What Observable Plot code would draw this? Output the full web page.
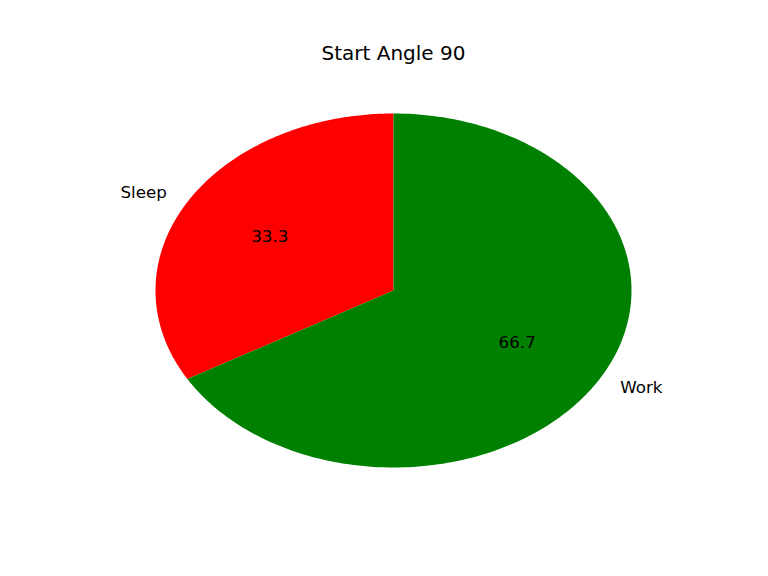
<!DOCTYPE html>
<html>
<head>
<meta charset="utf-8">
<script src="https://cdn.jsdelivr.net/npm/d3@7"></script>
<script src="https://cdn.jsdelivr.net/npm/@observablehq/plot@0.6"></script>
<style>
  body { margin: 0; background: #fff; }
  svg { display: block; }
</style>
</head>
<body>
<div id="chart"></div>
<script>
const labels = ["Sleep", "Work"];
const values = [8, 16];
const colors = ["red", "green"];
const title = "Start Angle 90";

const total = d3.sum(values);
const startDeg = 90;
const wedges = [];
const labelPts = [];
let acc = 0;
labels.forEach((name, i) => {
  const a0 = (startDeg + 360 * acc / total) * Math.PI / 180;
  acc += values[i];
  const a1 = (startDeg + 360 * acc / total) * Math.PI / 180;
  const n = 200;
  wedges.push({name, x: 0, y: 0});
  for (let k = 0; k <= n; k++) {
    const a = a0 + (a1 - a0) * k / n;
    wedges.push({name, x: Math.cos(a), y: Math.sin(a)});
  }
  wedges.push({name, x: 0, y: 0});
  const am = (a0 + a1) / 2;
  labelPts.push({
    name,
    pct: (100 * values[i] / total).toFixed(1),
    lx: 1.1 * Math.cos(am), ly: 1.1 * Math.sin(am),
    px: 0.6 * Math.cos(am), py: 0.6 * Math.sin(am),
    anchor: Math.cos(am) < 0 ? "end" : "start"
  });
});

const chart = Plot.plot({
  width: 768,
  height: 576,
  marginLeft: 155,
  marginRight: 137,
  marginTop: 113,
  marginBottom: 109,
  style: {fontFamily: "DejaVu Sans", background: "#fff"},
  x: {domain: [-1, 1], axis: null},
  y: {domain: [-1, 1], axis: null},
  color: {domain: labels, range: colors},
  marks: [
    Plot.line(wedges, {x: "x", y: "y", z: "name", fill: "name", stroke: null, curve: "linear"}),
    Plot.text(labelPts.filter(d => d.anchor === "end"), {x: "lx", y: "ly", text: "name", textAnchor: "end", fontSize: 16.7, fill: "black", dy: -1}),
    Plot.text(labelPts.filter(d => d.anchor === "start"), {x: "lx", y: "ly", text: "name", textAnchor: "start", fontSize: 16.7, fill: "black"}),
    Plot.text(labelPts, {x: "px", y: "py", text: "pct", fontSize: 16.7, fill: "black", dy: -1}),
    Plot.text([title], {frameAnchor: "top", dy: -68, text: d => d, fontSize: 20, fill: "black"})
  ]
});
document.getElementById("chart").appendChild(chart);
</script>
</body>
</html>
